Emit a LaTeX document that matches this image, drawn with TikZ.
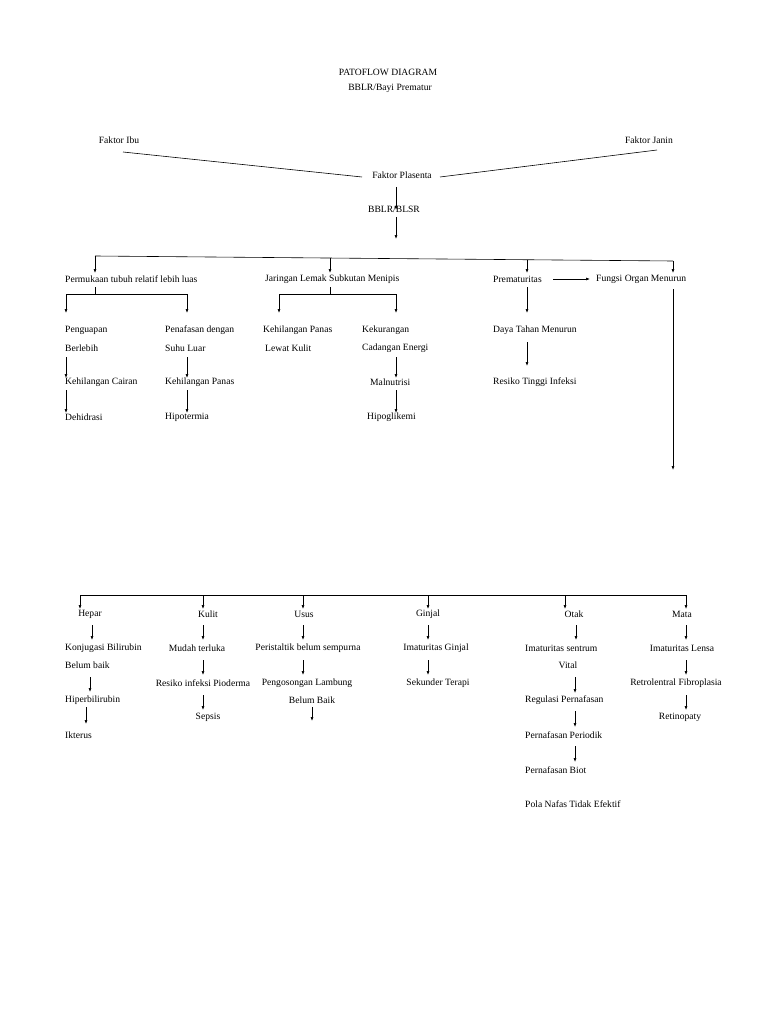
\documentclass[tikz,border=0pt]{standalone}
\usepackage{fontspec}
\setmainfont{Liberation Serif}
\usetikzlibrary{arrows.meta}
\begin{document}
\begin{tikzpicture}[x=1pt,y=-1pt,
  t/.style={inner sep=0pt,font=\fontsize{9.6}{11}\selectfont},
  l/.style={t,anchor=west},
  c/.style={t,anchor=center},
  ar/.style={-{Latex[length=4pt,width=3pt]},line width=0.6pt},
  ln/.style={line width=0.6pt}]
\useasboundingbox[fill=white] (0,0) rectangle (768,1024);
% titles
\node[c] (title) at (388,72) {PATOFLOW DIAGRAM};
\node[c] (sub) at (390,88) {BBLR/Bayi Prematur};
\node[c] (ibu) at (119,140) {Faktor Ibu};
\node[c] (janin) at (649,140) {Faktor Janin};
\node[c] (plas) at (402,175) {Faktor Plasenta};
\node[c] (bblr) at (394,209) {BBLR/BLSR};
\draw[ln] (123,152) -- (362,177);
\draw[ln] (440,177) -- (657,150);
\draw[ar] (396,187) -- (396,210);
\draw[ar] (396,217) -- (396,239);
% level 1
\draw[ln] (95,256) -- (673,261);
\draw[ar] (95,256) -- (95,273);
\draw[ar] (330,258) -- (330,273);
\draw[ar] (527,259.5) -- (527,273);
\draw[ar] (673,261) -- (673,273);
\node[l] (perm) at (65,279) {Permukaan tubuh relatif lebih luas};
\node[l] (jar) at (265,279) {Jaringan Lemak Subkutan Menipis};
\node[l] (prem) at (493,279) {Prematuritas};
\node[l] (fung) at (596,279) {Fungsi Organ Menurun};
\draw[ar] (553,279) -- (590,279);
% Permukaan branch
\draw[ln] (95,287) -- (95,294);
\draw[ln] (66,294) -- (187,294);
\draw[ar] (66,294) -- (66,313);
\draw[ar] (187,294) -- (187,313);
% Jaringan branch
\draw[ln] (330,287) -- (330,294);
\draw[ln] (279,294) -- (396,294);
\draw[ar] (279,294) -- (279,313);
\draw[ar] (396,294) -- (396,313);
% Prematuritas
\draw[ar] (527,287) -- (527,313);
% Fungsi
\draw[ar] (673,289) -- (673,470);
\node[l] (peng1) at (65,330) {Penguapan};
\node[l] (peng2) at (65,348) {Berlebih};
\node[l] (pen1) at (165,330) {Penafasan dengan};
\node[l] (pen2) at (165,348) {Suhu Luar};
\node[l] (keh1) at (263,330) {Kehilangan Panas};
\node[l] (keh2) at (265,348) {Lewat Kulit};
\node[l] (kek1) at (362,330) {Kekurangan};
\node[l] (kek2) at (362,348) {Cadangan Energi};
\node[l] (daya) at (493,330) {Daya Tahan Menurun};
\draw[ar] (66,357) -- (66,378);
\draw[ar] (187,357) -- (187,378);
\draw[ar] (396,357) -- (396,378);
\draw[ar] (527,342) -- (527,366);
\node[l] (kc) at (65,382) {Kehilangan Cairan};
\node[l] (kp) at (165,382) {Kehilangan Panas};
\node[l] (maln) at (370,382) {Malnutrisi};
\node[l] (res) at (493,382) {Resiko Tinggi Infeksi};
\draw[ar] (66,390) -- (66,413);
\draw[ar] (187,390) -- (187,413);
\draw[ar] (396,390) -- (396,413);
\node[l] (deh) at (65,417) {Dehidrasi};
\node[l] (hipo) at (165,417) {Hipotermia};
\node[l] (hgl) at (367,417) {Hipoglikemi};
% bottom
\draw[ln] (80,595) -- (686,595);
\foreach \x in {80,203,303,428,565,686} \draw[ar] (\x,595) -- (\x,609);
\node[c] (hep) at (90,614) {Hepar};
\node[c] (kul) at (208,614) {Kulit};
\node[c] (usu) at (304,614) {Usus};
\node[c] (gin) at (428,614) {Ginjal};
\node[c] (otk) at (574,614) {Otak};
\node[c] (mat) at (682,614) {Mata};
\foreach \x in {92,203,303,428,576,686} \draw[ar] (\x,625) -- (\x,640);
% Hepar
\node[l] (konj) at (65,648) {Konjugasi Bilirubin};
\node[l] (bb) at (65,665) {Belum baik};
\draw[ar] (90,677) -- (90,692);
\node[l] (hip) at (65,700) {Hiperbilirubin};
\draw[ar] (86,707) -- (86,724);
\node[l] (ikt) at (65,735) {Ikterus};
% Kulit
\node[c] (mud) at (197,648) {Mudah terluka};
\draw[ar] (203,660) -- (203,675);
\node[c] (rip) at (203,683) {Resiko infeksi Pioderma};
\draw[ar] (203,695) -- (203,710);
\node[c] (sep) at (208,717) {Sepsis};
% Usus
\node[c] (per) at (308,648) {Peristaltik belum sempurna};
\draw[ar] (303,660) -- (303,675);
\node[c] (pl) at (307,683) {Pengosongan Lambung};
\node[c] (bb2) at (312,700) {Belum Baik};
\draw[ar] (312,707) -- (312,721);
% Ginjal
\node[c] (img) at (436,648) {Imaturitas Ginjal};
\draw[ar] (428,660) -- (428,675);
\node[c] (sek) at (438,683) {Sekunder Terapi};
% Otak
\node[l] (ims) at (525,648) {Imaturitas sentrum};
\node[c] (vit) at (568,665) {Vital};
\draw[ar] (575,677) -- (575,693);
\node[l] (reg) at (525,700) {Regulasi Pernafasan};
\draw[ar] (575,711) -- (575,727);
\node[l] (ppr) at (525,735) {Pernafasan Periodik};
\draw[ar] (575,746) -- (575,762);
\node[l] (pbi) at (525,770) {Pernafasan Biot};
\node[l] (pola) at (525,804) {Pola Nafas Tidak Efektif};
% Mata
\node[c] (iml) at (682,648) {Imaturitas Lensa};
\draw[ar] (686,660) -- (686,675);
\node[c] (ret) at (676,683) {Retrolentral Fibroplasia};
\draw[ar] (686,695) -- (686,710);
\node[c] (rtp) at (680,717) {Retinopaty};
\end{tikzpicture}
\end{document}
